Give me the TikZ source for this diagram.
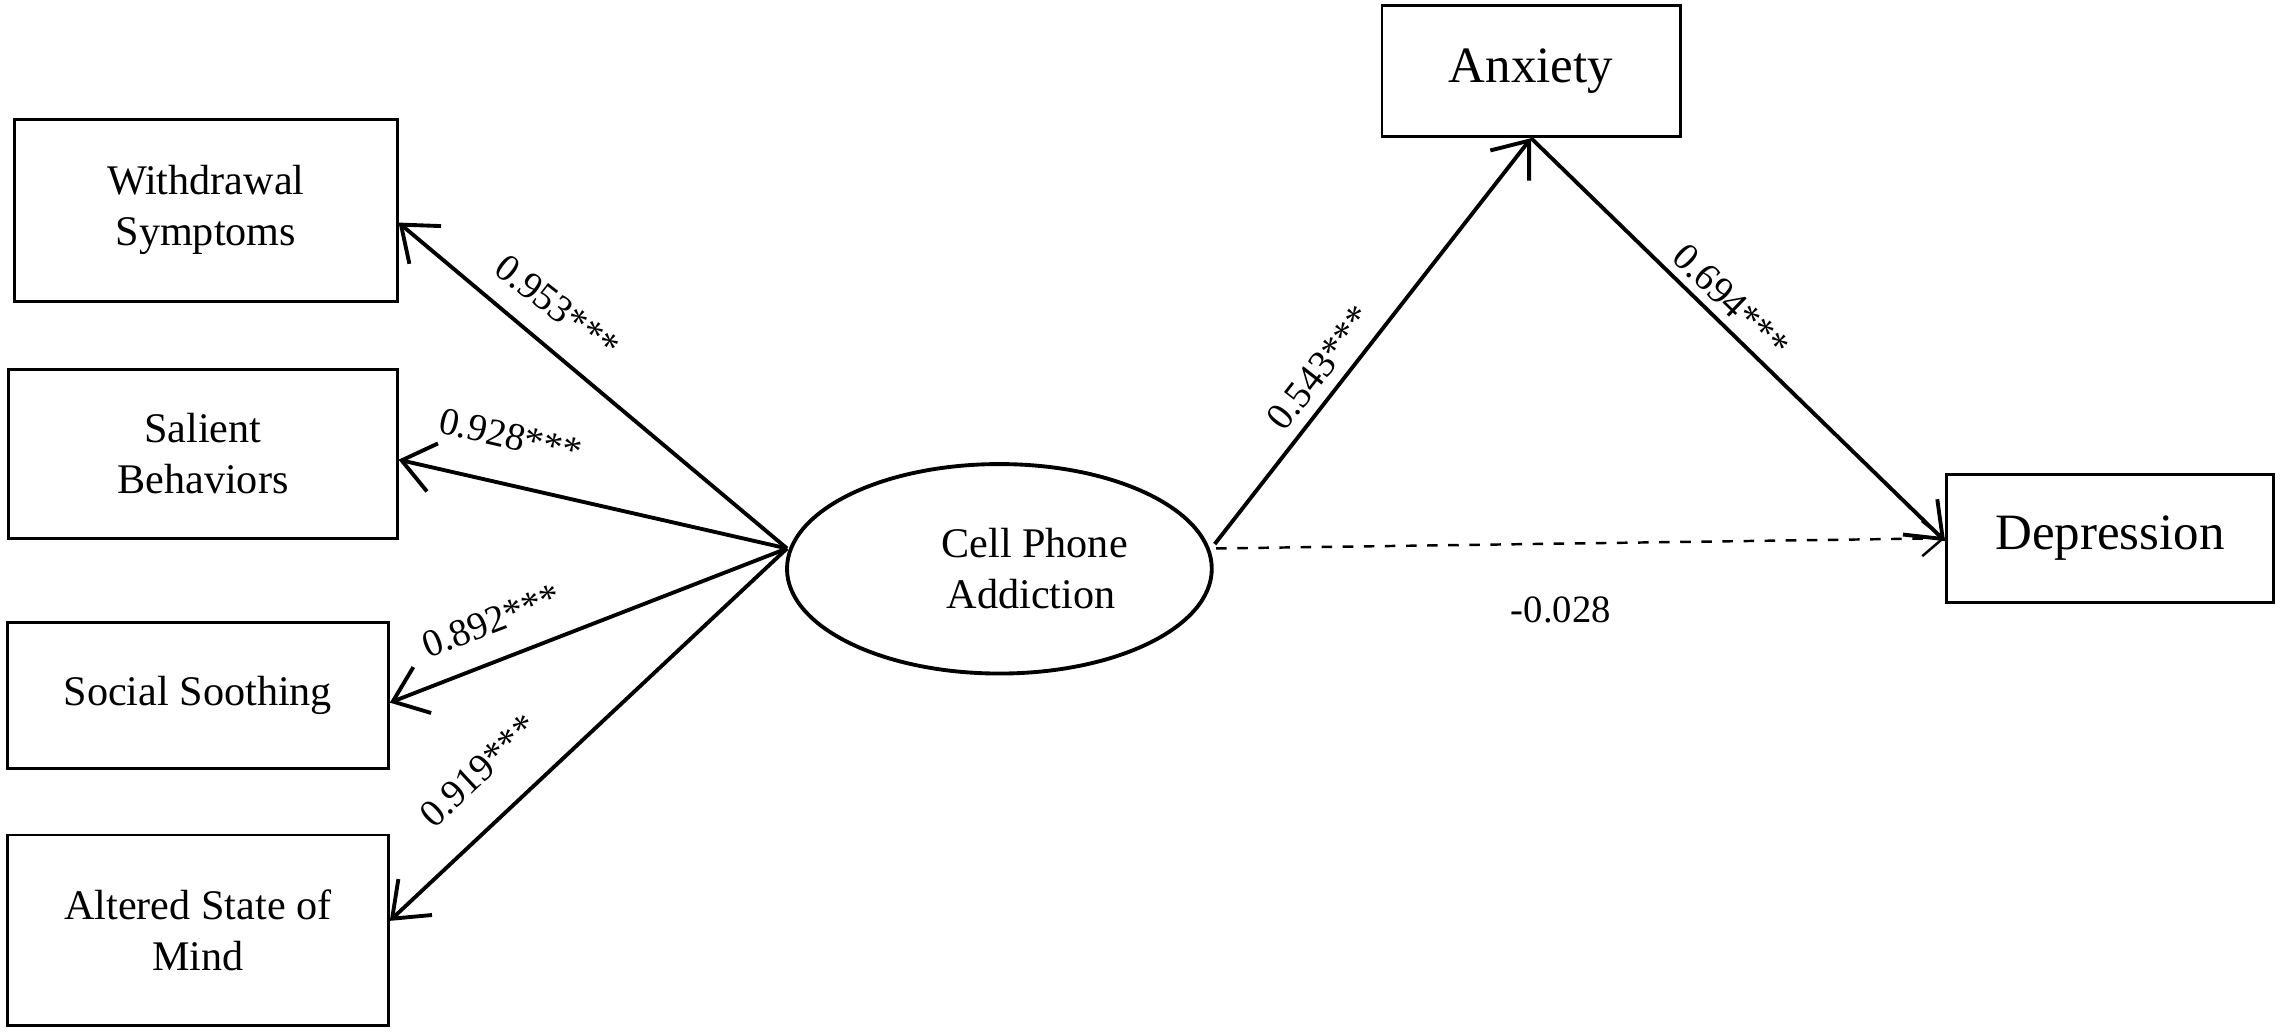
\documentclass[tikz,border=0pt]{standalone}
\usepackage{fontspec}
\setmainfont{Liberation Serif}
\usetikzlibrary{shapes.geometric,arrows.meta}
\begin{document}
\begin{tikzpicture}[x=0.014547cm,y=-0.014547cm,
 box/.style={draw,line width=0.8pt,inner sep=0pt,align=center,font=\fontsize{12}{14.5}\selectfont},
 arr/.style={line width=1.1pt,-{Straight Barb[length=9pt,width=14pt,line width=1.1pt]}},
 lab/.style={font=\fontsize{11}{13}\selectfont,inner sep=1pt}]
\useasboundingbox (0,0) rectangle (1568,710);
\node[box,minimum width=263*0.014547cm,minimum height=125*0.014547cm] (w) at (141.5,144.5) {Withdrawal\\Symptoms};
\node[box,minimum width=267*0.014547cm,minimum height=116*0.014547cm] (s) at (139.5,312) {Salient\\Behaviors};
\node[box,minimum width=262*0.014547cm,minimum height=100*0.014547cm] (so) at (136,478) {Social Soothing};
\node[box,minimum width=262*0.014547cm,minimum height=131*0.014547cm] (a) at (136,639.5) {Altered State of\\Mind};
\node[draw,line width=1.1pt,ellipse,minimum width=292*0.014547cm,minimum height=144*0.014547cm,align=center,inner sep=0pt,font=\fontsize{12}{14.5}\selectfont] (c) at (687,391) {\hspace*{20pt}Cell Phone\\\hspace*{18pt}Addiction};
\node[box,minimum width=205*0.014547cm,minimum height=90*0.014547cm,font=\fontsize{14.5}{17}\selectfont] (an) at (1052.5,49) {Anxiety};
\node[box,minimum width=225*0.014547cm,minimum height=88*0.014547cm,font=\fontsize{14.5}{17}\selectfont] (d) at (1450.5,370) {Depression};
\coordinate (cl) at (541,377);
\coordinate (cr) at (835,374);
\coordinate (cr2) at (836,377);
\draw[arr] (cl) -- (w.east |- 0,153);
\draw[arr] (cl) -- (s.east |- 0,316);
\draw[arr] (cl) -- (so.east |- 0,483);
\draw[arr] (cl) -- (a.east |- 0,633);
\draw[arr] (cr) -- (an.south);
\draw[arr] (an.south) -- (d.west |- 0,372);
\draw[dashed,line width=0.7pt,-{Straight Barb[length=6pt,width=10pt]}] (cr2) -- (d.west |- 0,370);
\node[lab,rotate=-38] at (383,211) {0.953***};
\node[lab,rotate=-13] at (351,300) {0.928***};
\node[lab,rotate=21] at (338,427) {0.892***};
\node[lab,rotate=43] at (329,530) {0.919***};
\node[lab,rotate=52] at (907,253) {0.543***};
\node[lab,rotate=-44] at (1190,207) {0.694***};
\node[lab] at (1073,419) {-0.028};
\end{tikzpicture}
\end{document}
